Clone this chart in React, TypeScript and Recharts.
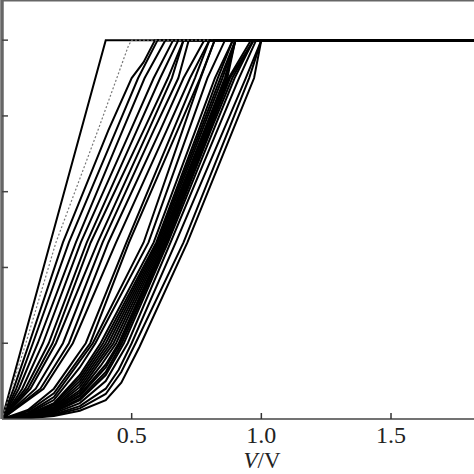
import { LineChart, Line, XAxis, YAxis, ReferenceLine, Label } from 'recharts'

// each curve: [voltage, current] points
const upperCurves: number[][][] = [
  [[0, 0], [0.4, 5], [1.82, 5]],
  [[0, 0], [0.045, 0.4], [0.105, 1], [0.235, 2.33], [0.41, 3.81], [0.5, 4.5], [0.546, 4.71], [0.59, 5], [1.82, 5]],
  [[0, 0], [0.055, 0.4], [0.119, 1], [0.258, 2.33], [0.44, 3.81], [0.525, 4.5], [0.6, 5], [1.82, 5]],
  [[0, 0], [0.065, 0.4], [0.138, 1], [0.285, 2.33], [0.465, 3.81], [0.55, 4.5], [0.63, 5], [1.82, 5]],
  [[0, 0], [0.078, 0.4], [0.158, 1], [0.304, 2.33], [0.496, 3.81], [0.585, 4.5], [0.66, 5], [1.82, 5]],
  [[0, 0], [0.09, 0.4], [0.18, 1], [0.327, 2.33], [0.52, 3.81], [0.61, 4.5], [0.68, 5], [1.82, 5]],
  [[0, 0], [0.1, 0.4], [0.195, 1], [0.342, 2.33], [0.546, 3.81], [0.64, 4.5], [0.7, 5], [1.82, 5]],
  [[0, 0], [0.11, 0.4], [0.208, 1], [0.369, 2.33], [0.565, 3.81], [0.655, 4.5], [0.7, 5], [1.82, 5]],
  [[0, 0], [0.13, 0.4], [0.235, 1], [0.388, 2.33], [0.585, 3.81], [0.68, 4.5], [0.72, 5], [1.82, 5]],
  [[0, 0], [0.148, 0.4], [0.258, 1], [0.41, 2.33], [0.61, 3.81], [0.7, 4.5], [0.78, 5], [1.82, 5]],
  [[0, 0], [0.16, 0.4], [0.273, 1], [0.44, 2.33], [0.635, 3.81], [0.725, 4.5], [0.8, 5], [1.82, 5]],
]

// the faint dotted one
const dottedCurve: number[][] = [[0, 0], [0.092, 1], [0.208, 2.33], [0.37, 3.81], [0.488, 4.93], [0.5, 5], [1.82, 5]]

const lowerCurves: number[][][] = [
  [[0, 0], [0.1, 0.12], [0.2, 0.4], [0.323, 1], [0.48, 2.33], [0.66, 3.81], [0.744, 4.5], [0.8, 5], [1.82, 5]],
  [[0, 0], [0.1, 0.1], [0.2, 0.34], [0.34, 1], [0.49, 2.33], [0.677, 3.81], [0.764, 4.5], [0.82, 5], [1.82, 5]],
  [[0, 0], [0.1, 0.08], [0.2, 0.29], [0.35, 1], [0.546, 2.33], [0.696, 3.81], [0.766, 4.5], [0.82, 5], [1.82, 5]],
  [[0, 0], [0.1, 0.07], [0.2, 0.25], [0.3, 0.68], [0.36, 1], [0.565, 2.33], [0.72, 3.81], [0.792, 4.5], [0.86, 5], [1.82, 5]],
  [[0, 0], [0.1, 0.06], [0.2, 0.21], [0.3, 0.58], [0.38, 1], [0.585, 2.33], [0.746, 3.81], [0.821, 4.5], [0.89, 5], [1.82, 5]],
  [[0, 0], [0.1, 0.055], [0.2, 0.2], [0.3, 0.54], [0.39, 1], [0.595, 2.33], [0.758, 3.81], [0.832, 4.5], [0.89, 5], [1.82, 5]],
  [[0, 0], [0.1, 0.05], [0.2, 0.18], [0.3, 0.5], [0.4, 1], [0.6, 2.33], [0.765, 3.81], [0.842, 4.5], [0.9, 5], [1.82, 5]],
  [[0, 0], [0.1, 0.048], [0.2, 0.16], [0.3, 0.46], [0.41, 1], [0.605, 2.33], [0.772, 3.81], [0.85, 4.5], [0.9, 5], [1.82, 5]],
  [[0, 0], [0.1, 0.045], [0.2, 0.15], [0.3, 0.42], [0.42, 1], [0.61, 2.33], [0.78, 3.81], [0.859, 4.5], [0.9, 5], [1.82, 5]],
  [[0, 0], [0.1, 0.042], [0.2, 0.14], [0.3, 0.38], [0.43, 1], [0.615, 2.33], [0.785, 3.81], [0.864, 4.5], [0.9, 5], [1.82, 5]],
  [[0, 0], [0.1, 0.04], [0.2, 0.13], [0.3, 0.35], [0.38, 0.7], [0.44, 1], [0.62, 2.33], [0.79, 3.81], [0.869, 4.5], [0.9, 5], [1.82, 5]],
  [[0, 0], [0.1, 0.037], [0.2, 0.12], [0.3, 0.32], [0.4, 0.72], [0.45, 1], [0.625, 2.33], [0.795, 3.81], [0.874, 4.5], [0.96, 5], [1.82, 5]],
  [[0, 0], [0.1, 0.035], [0.2, 0.11], [0.3, 0.3], [0.4, 0.68], [0.455, 1], [0.63, 2.33], [0.8, 3.81], [0.879, 4.5], [0.97, 5], [1.82, 5]],
  [[0, 0], [0.1, 0.032], [0.2, 0.1], [0.3, 0.27], [0.4, 0.62], [0.462, 1], [0.635, 2.33], [0.805, 3.81], [0.888, 4.5], [0.97, 5], [1.82, 5]],
  [[0, 0], [0.1, 0.03], [0.2, 0.09], [0.3, 0.25], [0.4, 0.58], [0.47, 1], [0.64, 2.33], [0.815, 3.81], [0.897, 4.5], [0.97, 5], [1.82, 5]],
  [[0, 0], [0.1, 0.025], [0.2, 0.075], [0.3, 0.21], [0.4, 0.5], [0.485, 1], [0.65, 2.33], [0.83, 3.81], [0.914, 4.5], [0.98, 5], [1.82, 5]],
  [[0, 0], [0.1, 0.02], [0.2, 0.06], [0.3, 0.17], [0.4, 0.4], [0.45, 0.65], [0.5, 1], [0.67, 2.33], [0.854, 3.81], [0.94, 4.5], [1.0, 5], [1.82, 5]],
  [[0, 0], [0.1, 0.015], [0.2, 0.05], [0.3, 0.14], [0.4, 0.33], [0.46, 0.62], [0.515, 1], [0.7, 2.33], [0.873, 3.81], [0.953, 4.5], [1.0, 5], [1.82, 5]],
  [[0, 0], [0.1, 0.01], [0.2, 0.04], [0.3, 0.11], [0.4, 0.25], [0.46, 0.48], [0.53, 0.95], [0.715, 2.33], [0.89, 3.81], [0.972, 4.5], [1.0, 5], [1.82, 5]],
]

const xTicks = [0, 0.5, 1.0, 1.5]
const xTickLabels = ['0', '0.5', '1.0', '1.5']
const yTicks = [1, 2, 3, 4, 5]
const yMax = 5.53

const font = '"Liberation Serif", "DejaVu Serif", serif'

const toRows = (pts: number[][]) => pts.map(([v, i]) => ({ v, i }))

const XTick = ({ x, y, payload }: any) => {
  const idx = xTicks.indexOf(payload.value)
  return (
    <g>
      <line x1={x} x2={x} y1={y} y2={y - 6} stroke="#333" strokeWidth={1.5} />
      <text x={x} y={y + 24} textAnchor="middle" fontSize={24} fontFamily={font} fill="#222">
        {xTickLabels[idx]}
      </text>
    </g>
  )
}

const YTick = ({ x, y }: any) => (
  <line x1={x} x2={x + 6} y1={y} y2={y} stroke="#444" strokeWidth={1.5} />
)

const AxisTitle = ({ viewBox }: any) => (
  <text x={viewBox.x + viewBox.width / 2 + 24} y={viewBox.y + 49} textAnchor="middle" fontSize={23} fontFamily={font} fill="#222">
    <tspan fontStyle="italic">V</tspan>
    <tspan>/V</tspan>
  </text>
)

export default function App() {
  return (
    <div style={{ position: 'fixed', left: 0, top: 0, background: '#fff' }}>
      <LineChart width={474} height={474} margin={{ top: 0, right: 0, left: 0, bottom: 0 }}>
        <XAxis
          dataKey="v"
          type="number"
          domain={[0, 1.82]}
          ticks={xTicks}
          allowDataOverflow
          tick={<XTick />}
          tickLine={false}
          tickSize={0}
          tickMargin={0}
          stroke="#444"
          strokeWidth={1.5}
          height={55}
        >
          <Label content={<AxisTitle />} />
        </XAxis>
        <YAxis
          type="number"
          domain={[0, yMax]}
          ticks={yTicks}
          allowDataOverflow
          width={2}
          tick={<YTick />}
          tickLine={false}
          tickSize={0}
          tickMargin={0}
          stroke="#666"
          strokeWidth={3}
        />
        <ReferenceLine y={yMax} stroke="#666" strokeWidth={3} />
        <ReferenceLine x={0} stroke="#666" strokeWidth={3} />
        {upperCurves.map((c, k) => (
          <Line key={'u' + k} data={toRows(c)} dataKey="i" type="linear" stroke="#000" strokeWidth={2} dot={false} isAnimationActive={false} />
        ))}
        <Line data={toRows(dottedCurve)} dataKey="i" type="linear" stroke="#777" strokeWidth={1.2} strokeDasharray="2 2" dot={false} isAnimationActive={false} />
        {lowerCurves.map((c, k) => (
          <Line key={'l' + k} data={toRows(c)} dataKey="i" type="linear" stroke="#000" strokeWidth={2} dot={false} isAnimationActive={false} />
        ))}
      </LineChart>
    </div>
  )
}
